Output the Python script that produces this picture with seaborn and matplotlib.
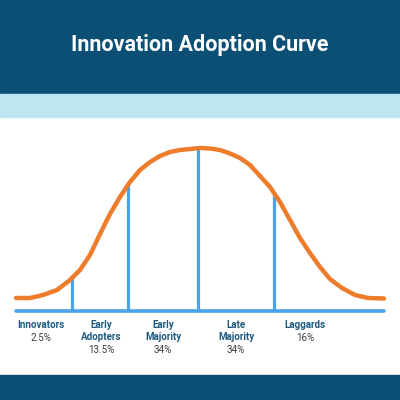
import numpy as np
import pandas as pd
import matplotlib
matplotlib.use("Agg")
import matplotlib.pyplot as plt
from matplotlib.patches import Rectangle
import seaborn as sns

# adoption curve (position along the axis, height above baseline)
curve_pos = [16, 30, 43, 57, 70, 80, 90, 100, 110, 120, 130, 140, 150, 160,
             170, 180, 190, 200, 210, 220, 230, 240, 250, 260, 270, 280, 290,
             300, 310, 320, 330, 342, 355, 368, 384]
curve_height = [13, 13, 16, 21, 31, 41, 56, 77, 97, 114, 129, 141, 149, 155,
                159, 161, 162, 163, 162.5, 161, 157.5, 153, 146, 135, 124, 109, 91,
                73, 58, 44, 32, 23, 16, 13, 12.5]

# segment boundaries on the same axis
boundaries = [72, 128, 198, 274]

segments = ["Innovators", "Early\nAdopters", "Early\nMajority", "Late\nMajority", "Laggards"]
shares = ["2.5%", "13.5%", "34%", "34%", "16%"]
label_pos = [41, 101, 163, 236, 305]

title = "Innovation Adoption Curve"

dark_blue = "#0b4f75"
pale_blue = "#bde5f2"
orange = "#ee7d2b"
line_blue = "#4aa3ea"
label_blue = "#1d5a80"

sns.set_style("white")
plt.rcParams["font.family"] = ["Roboto", "DejaVu Sans"]

fig = plt.figure(figsize=(4, 4), dpi=100)
fig.patch.set_facecolor("white")

# header, pale band and footer
fig.patches.append(Rectangle((0, 1 - 94 / 400), 1, 94 / 400, transform=fig.transFigure,
                             color=dark_blue, zorder=0))
fig.patches.append(Rectangle((0, 1 - 117 / 400), 1, 23 / 400, transform=fig.transFigure,
                             color=pale_blue, zorder=0))
fig.patches.append(Rectangle((0, 0), 1, 25 / 400, transform=fig.transFigure,
                             color=dark_blue, zorder=0))
fig.text(0.5, 1 - 45 / 400, title, color="white", fontsize=15.5, fontweight="bold",
         ha="center", va="center")

# chart area: baseline sits at pixel row 311
ax = fig.add_axes([0, (400 - 311) / 400, 1, 181 / 400])
ax.set_xlim(0, 400)
ax.set_ylim(0, 181)
ax.axis("off")
ax.patch.set_alpha(0)

df = pd.DataFrame({"pos": curve_pos, "height": curve_height})

tops = np.interp(boundaries, curve_pos, curve_height)
ax.vlines(boundaries, 0, tops, color=line_blue, lw=2.3, zorder=2)
ax.plot([curve_pos[0], curve_pos[-1]], [0, 0], color=line_blue, lw=2.6,
        solid_capstyle="round", clip_on=False, zorder=2)

sns.lineplot(data=df, x="pos", y="height", ax=ax, color=orange, lw=3.2,
             solid_capstyle="round", solid_joinstyle="round", zorder=3)
ax.set_xlabel("")
ax.set_ylabel("")

line_h = 12.7
for x, name, share in zip(label_pos, segments, shares):
    n = name.count("\n") + 1
    ax.text(x, -9, name, ha="center", va="top", fontsize=7, fontweight="bold",
            color=label_blue, linespacing=1.3, clip_on=False)
    ax.text(x, -9 - n * line_h, share, ha="center", va="top", fontsize=7,
            color="#3a3a3a", clip_on=False)

fig.savefig("out.png", dpi=100)
